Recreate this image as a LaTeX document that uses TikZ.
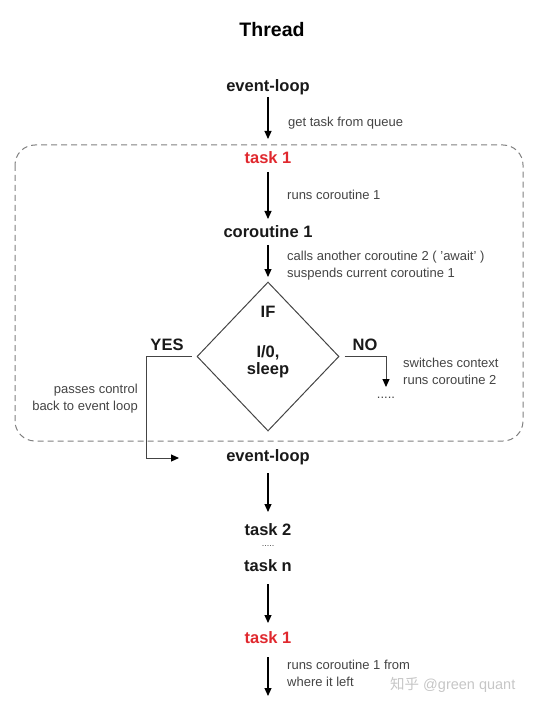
\documentclass[tikz,border=0pt]{standalone}
\usepackage{fontspec}
\setmainfont{Liberation Sans}
\newfontfamily\cjkfont{Noto Sans CJK SC}
\usetikzlibrary{arrows.meta,shapes.geometric}
\definecolor{lbl}{HTML}{444444}
\definecolor{redt}{HTML}{E0282E}
\tikzset{
  x=1pt,y=-1pt,
  bold/.style={font=\fontsize{16.5}{18}\selectfont\bfseries,text=black!90,inner sep=0pt},
  redbold/.style={bold,text=redt},
  lab/.style={font=\fontsize{13}{17}\selectfont,text=lbl,inner sep=0pt,align=left},
  flow/.style={line width=1.1pt,-{Triangle[length=8pt,width=7pt]}},
  conn/.style={line width=1pt,draw=lbl,-{Triangle[length=8pt,width=7pt,color=black]}},
}
\begin{document}
\begin{tikzpicture}
\useasboundingbox (0,0) rectangle (551,708);
\node[font=\fontsize{19.5}{22}\selectfont\bfseries] (title) at (272,30) {Thread};
\node[bold] (el1) at (268,87) {event-loop};
\draw[draw=gray,line width=1pt,dash pattern=on 6pt off 4pt,rounded corners=20pt] (15,145) rectangle (523,441);
\node[redbold] (t1) at (268,158) {task 1};
\node[bold] (c1) at (268,232) {coroutine 1};
\node[draw=lbl,line width=1pt,diamond,minimum width=142pt,minimum height=149pt,inner sep=0pt] (dia) at (268,356.5) {};
\node[bold] (if) at (268,312) {IF};
\node[bold,align=center] (io) at (268,362) {I/0,\\[-1pt]sleep};
\node[bold] (yes) at (167,345) {YES};
\node[bold] (no) at (365,345) {NO};
\node[bold] (el2) at (268,457) {event-loop};
\node[bold] (t2) at (268,530) {task 2};
\node[lab,font=\fontsize{9}{10}\selectfont] (dots2) at (268,546) {.....};
\node[bold] (tn) at (268,566) {task n};
\node[redbold] (t1b) at (268,638) {task 1};
% helper coordinates
\coordinate (s1) at (268,97);  \coordinate (e1) at (268,139);
\coordinate (s2) at (268,172); \coordinate (e2) at (268,219);
\coordinate (s3) at (268,245); \coordinate (e3) at (268,277);
\coordinate (s4) at (268,473); \coordinate (e4) at (268,512);
\coordinate (s5) at (268,584); \coordinate (e5) at (268,623);
\coordinate (s6) at (268,657); \coordinate (e6) at (268,696);
\coordinate (ndots) at (386,387);
\coordinate (ybend) at (146,458);
\coordinate (yend) at (179,458);
\node[lab] (dots1) at (386,398) {.....};
% arrows
\draw[flow] (s1) -- (e1);
\node[lab,anchor=west] (l1) at (288,123) {get task from queue};
\draw[flow] (s2) -- (e2);
\node[lab,anchor=west] (l2) at (287,195) {runs coroutine 1};
\draw[flow] (s3) -- (e3);
\node[lab,anchor=west] (l3) at (287,266) {calls another coroutine 2 ( 'await' )\\suspends current coroutine 1};
\draw[conn] ([xshift=5pt]dia.east) -| (ndots);
\node[lab,anchor=west] (l4) at (403,371) {switches context\\runs coroutine 2};
\draw[conn] ([xshift=-5pt]dia.west) -| (ybend) -- (yend);
\node[lab,anchor=east,align=right] (l5) at (138,399) {passes control\\back to event loop};
\draw[flow] (s4) -- (e4);
\draw[flow] (s5) -- (e5);
\draw[flow] (s6) -- (e6);
\node[lab,anchor=west] (l6) at (287,673) {runs coroutine 1 from\\where it left};
\node[font=\fontsize{14.5}{16}\selectfont,text=gray!45,inner sep=0pt,anchor=west] (wm) at (390,685) {{\cjkfont 知乎} @green quant};
\end{tikzpicture}
\end{document}
